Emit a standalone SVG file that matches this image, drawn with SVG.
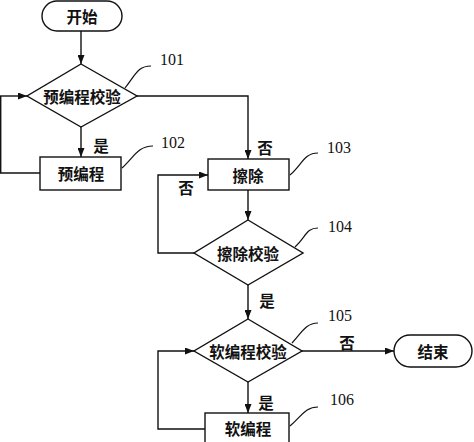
<svg xmlns="http://www.w3.org/2000/svg" width="474" height="442" viewBox="0 0 474 442">
<defs>
<marker id="arr" markerWidth="9" markerHeight="7" refX="9" refY="3.5" orient="auto" markerUnits="userSpaceOnUse">
<path d="M0,0 L9,3.5 L0,7 Z" fill="#111"/>
</marker>
<style>
.shape{fill:#fff;stroke:#111;stroke-width:1.4}
.line{fill:none;stroke:#111;stroke-width:1.4}
.lead{fill:none;stroke:#111;stroke-width:1.2}
.t{font-family:"Noto Sans CJK SC","Noto Sans CJK JP",sans-serif;font-size:15.5px;font-weight:bold;fill:#111;text-anchor:middle;dominant-baseline:central}
.n{font-family:"Liberation Serif",serif;font-size:16px;fill:#111;text-anchor:start}
</style>
</defs>
<rect width="474" height="442" fill="#fff"/>
<g id="connectors">
<line class="line" x1="81" y1="31" x2="81" y2="64" marker-end="url(#arr)"/>
<polyline class="line" points="0,96 27,96" marker-end="url(#arr)"/>
<polyline class="line" points="0,173 40,173"/>
<line class="line" x1="0.7" y1="96" x2="0.7" y2="173"/>
<line class="line" x1="81" y1="127" x2="81" y2="157" marker-end="url(#arr)"/>
<polyline class="line" points="137,96 248,96 248,159" marker-end="url(#arr)"/>
<line class="line" x1="248" y1="190" x2="248" y2="220" marker-end="url(#arr)"/>
<polyline class="line" points="194,253 158,253 158,175 208,175" marker-end="url(#arr)"/>
<line class="line" x1="248" y1="285" x2="248" y2="319" marker-end="url(#arr)"/>
<line class="line" x1="302" y1="351" x2="394" y2="351" marker-end="url(#arr)"/>
<line class="line" x1="248" y1="382" x2="248" y2="413" marker-end="url(#arr)"/>
<polyline class="line" points="205,429 158,429 158,351 194,351" marker-end="url(#arr)"/>
<path class="lead" d="M125,88 C136,74 138,66 151,66"/>
<path class="lead" d="M122,168 C134,157 138,146 153,146"/>
<path class="lead" d="M290,175 C302,165 304,153 318,153"/>
<path class="lead" d="M295,247 C306,237 306,228 318,228"/>
<path class="lead" d="M292,343 C302,332 306,323 318,323"/>
<path class="lead" d="M290,426 C302,416 305,407 318,407"/>
<text class="t" x="101" y="145">是</text>
<text class="t" x="265" y="147">否</text>
<text class="t" x="186" y="187">否</text>
<text class="t" x="267" y="300">是</text>
<text class="t" x="347" y="342">否</text>
<text class="t" x="266" y="402">是</text>
</g>
<g id="start">
<rect class="shape" x="42" y="1" width="80" height="30" rx="15"/>
<text class="t" x="82" y="16">开始</text>
</g>
<g id="n101">
<polygon class="shape" points="81,64 137,96 81,127 27,96"/>
<text class="t" x="82" y="96">预编程校验</text>
<text class="n" x="160" y="65">101</text>
</g>
<g id="n102">
<rect class="shape" x="40" y="157" width="81" height="33"/>
<text class="t" x="81" y="173">预编程</text>
<text class="n" x="161" y="148">102</text>
</g>
<g id="n103">
<rect class="shape" x="208" y="159" width="81" height="31"/>
<text class="t" x="248" y="175">擦除</text>
<text class="n" x="327" y="153">103</text>
</g>
<g id="n104">
<polygon class="shape" points="248,220 303,253 248,285 194,253"/>
<text class="t" x="248" y="253">擦除校验</text>
<text class="n" x="328" y="232">104</text>
</g>
<g id="n105">
<polygon class="shape" points="248,319 302,351 248,382 194,351"/>
<text class="t" x="248" y="351">软编程校验</text>
<text class="n" x="328" y="321">105</text>
</g>
<g id="end">
<rect class="shape" x="394" y="335" width="78" height="32" rx="16"/>
<text class="t" x="433" y="351">结束</text>
</g>
<g id="n106">
<rect class="shape" x="205" y="413" width="84" height="34"/>
<text class="t" x="248" y="428">软编程</text>
<text class="n" x="330" y="405">106</text>
</g>
</svg>
